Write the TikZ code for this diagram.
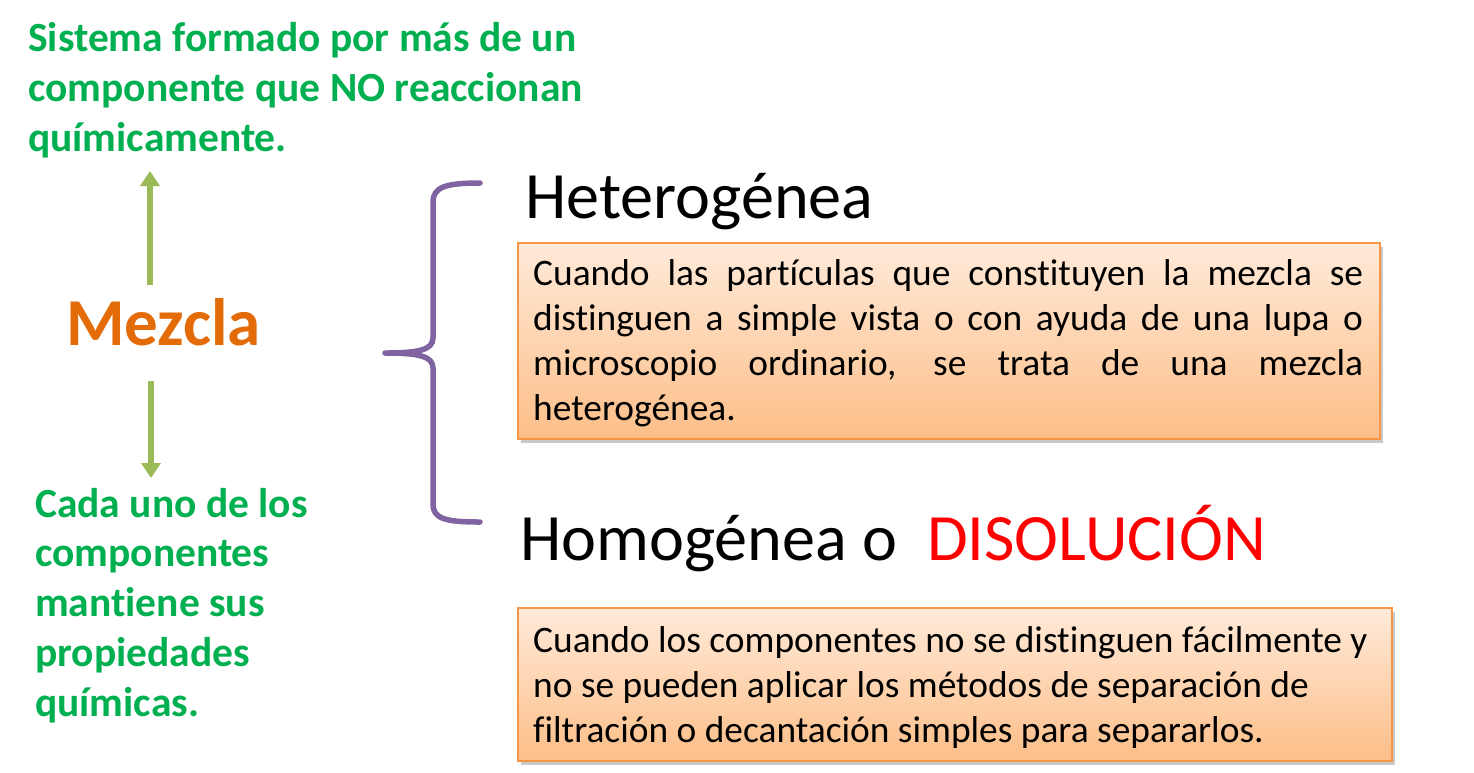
\documentclass[tikz,border=0pt]{standalone}
\usepackage{fontspec}
\setmainfont{Carlito}[Ligatures=NoCommon]
\usetikzlibrary{arrows.meta,shadows}
\definecolor{grn}{HTML}{00B050}
\definecolor{mezc}{HTML}{E36C09}
\definecolor{arrowgrn}{HTML}{9BBB59}
\definecolor{purp}{HTML}{8064A2}
\definecolor{boxline}{HTML}{F79646}
\definecolor{boxtop}{RGB}{255,234,217}
\definecolor{boxbot}{RGB}{252,190,136}
\definecolor{discol}{HTML}{FF0000}
\tikzset{
  greentext/.style={anchor=base west, align=left, inner sep=0pt, text=grn,
    font=\fontsize{41.5}{49.8}\selectfont\bfseries},
  bigtitle/.style={anchor=base west, inner sep=0pt, font=\fontsize{66.2}{79}\selectfont},
  boxtext/.style={anchor=base west, align=left, inner sep=0pt,
    font=\fontsize{37.4}{45}\selectfont},
  orangebox/.style={draw=boxline, line width=2pt, top color=boxtop, bottom color=boxbot,
    anchor=north west, inner sep=0pt,
    drop shadow={shadow xshift=3pt, shadow yshift=-4pt, opacity=0.35, fill=black!60}},
  greenarrow/.style={draw=arrowgrn, line width=6.5pt, -{Triangle[width=19pt,length=15pt]}},
  bracestyle/.style={draw=purp, line width=5.5pt, line cap=round, line join=round}
}
\begin{document}
\begin{tikzpicture}[x=1pt,y=1pt]
\useasboundingbox (0,0) rectangle (1474,-772);
\fill[white] (0,0) rectangle (1474,-772);

% left column (base anchor = last line baseline)
\node[greentext] (deftext) at (28,-151) {Sistema formado por más de un\\componente que NO reaccionan\\químicamente.};
\node[anchor=base west, inner sep=0pt, text=mezc, font=\fontsize{67}{80}\selectfont\bfseries] (mezcla) at (66,-345) {Mezcla};
\node[greentext] (proptext) at (35,-716.2) {Cada uno de los\\componentes\\mantiene sus\\propiedades\\químicas.};

\coordinate (upstart) at (150,-285);
\coordinate (upend) at (150,-171);
\coordinate (downstart) at (151,-381);
\coordinate (downend) at (151,-478);
\draw[greenarrow] (upstart) -- (upend);
\draw[greenarrow] (downstart) -- (downend);

% brace
\coordinate (brtop) at (480,-183);
\coordinate (brtip) at (385,-353);
\coordinate (brbot) at (480,-522);
\draw[bracestyle] (brtop) .. controls (446,-183) and (433,-187) .. (433,-202)
  -- (433,-338) .. controls (433,-350) and (418,-353) .. (brtip)
  .. controls (418,-353) and (433,-356) .. (433,-368)
  -- (433,-504) .. controls (433,-519) and (446,-522) .. (brbot);

% heterogenea
\node[bigtitle] (hettitle) at (525,-218) {Heterogénea};
\node[orangebox, minimum width=862pt, minimum height=196pt] (hetbox) at (517,-242) {};
\node[boxtext] (hettext) at (533,-420) {\makebox[830pt][s]{Cuando las partículas que constituyen la mezcla se}\\
\makebox[830pt][s]{distinguen a simple vista o con ayuda de una lupa o}\\
\makebox[830pt][s]{microscopio ordinario, se trata de una mezcla}\\
heterogénea.};

% homogenea
\node[bigtitle] (homtitle) at (520,-560) {Homogénea o\hspace{30pt}\textcolor{discol}{DISOLUCIÓN}};
\node[orangebox, minimum width=874pt, minimum height=153pt] (hombox) at (517,-607) {};
\node[boxtext] (homtext) at (533,-742) {Cuando los componentes no se distinguen fácilmente y\\
no se pueden aplicar los métodos de separación de\\
filtración o decantación simples para separarlos.};
\end{tikzpicture}
\end{document}
